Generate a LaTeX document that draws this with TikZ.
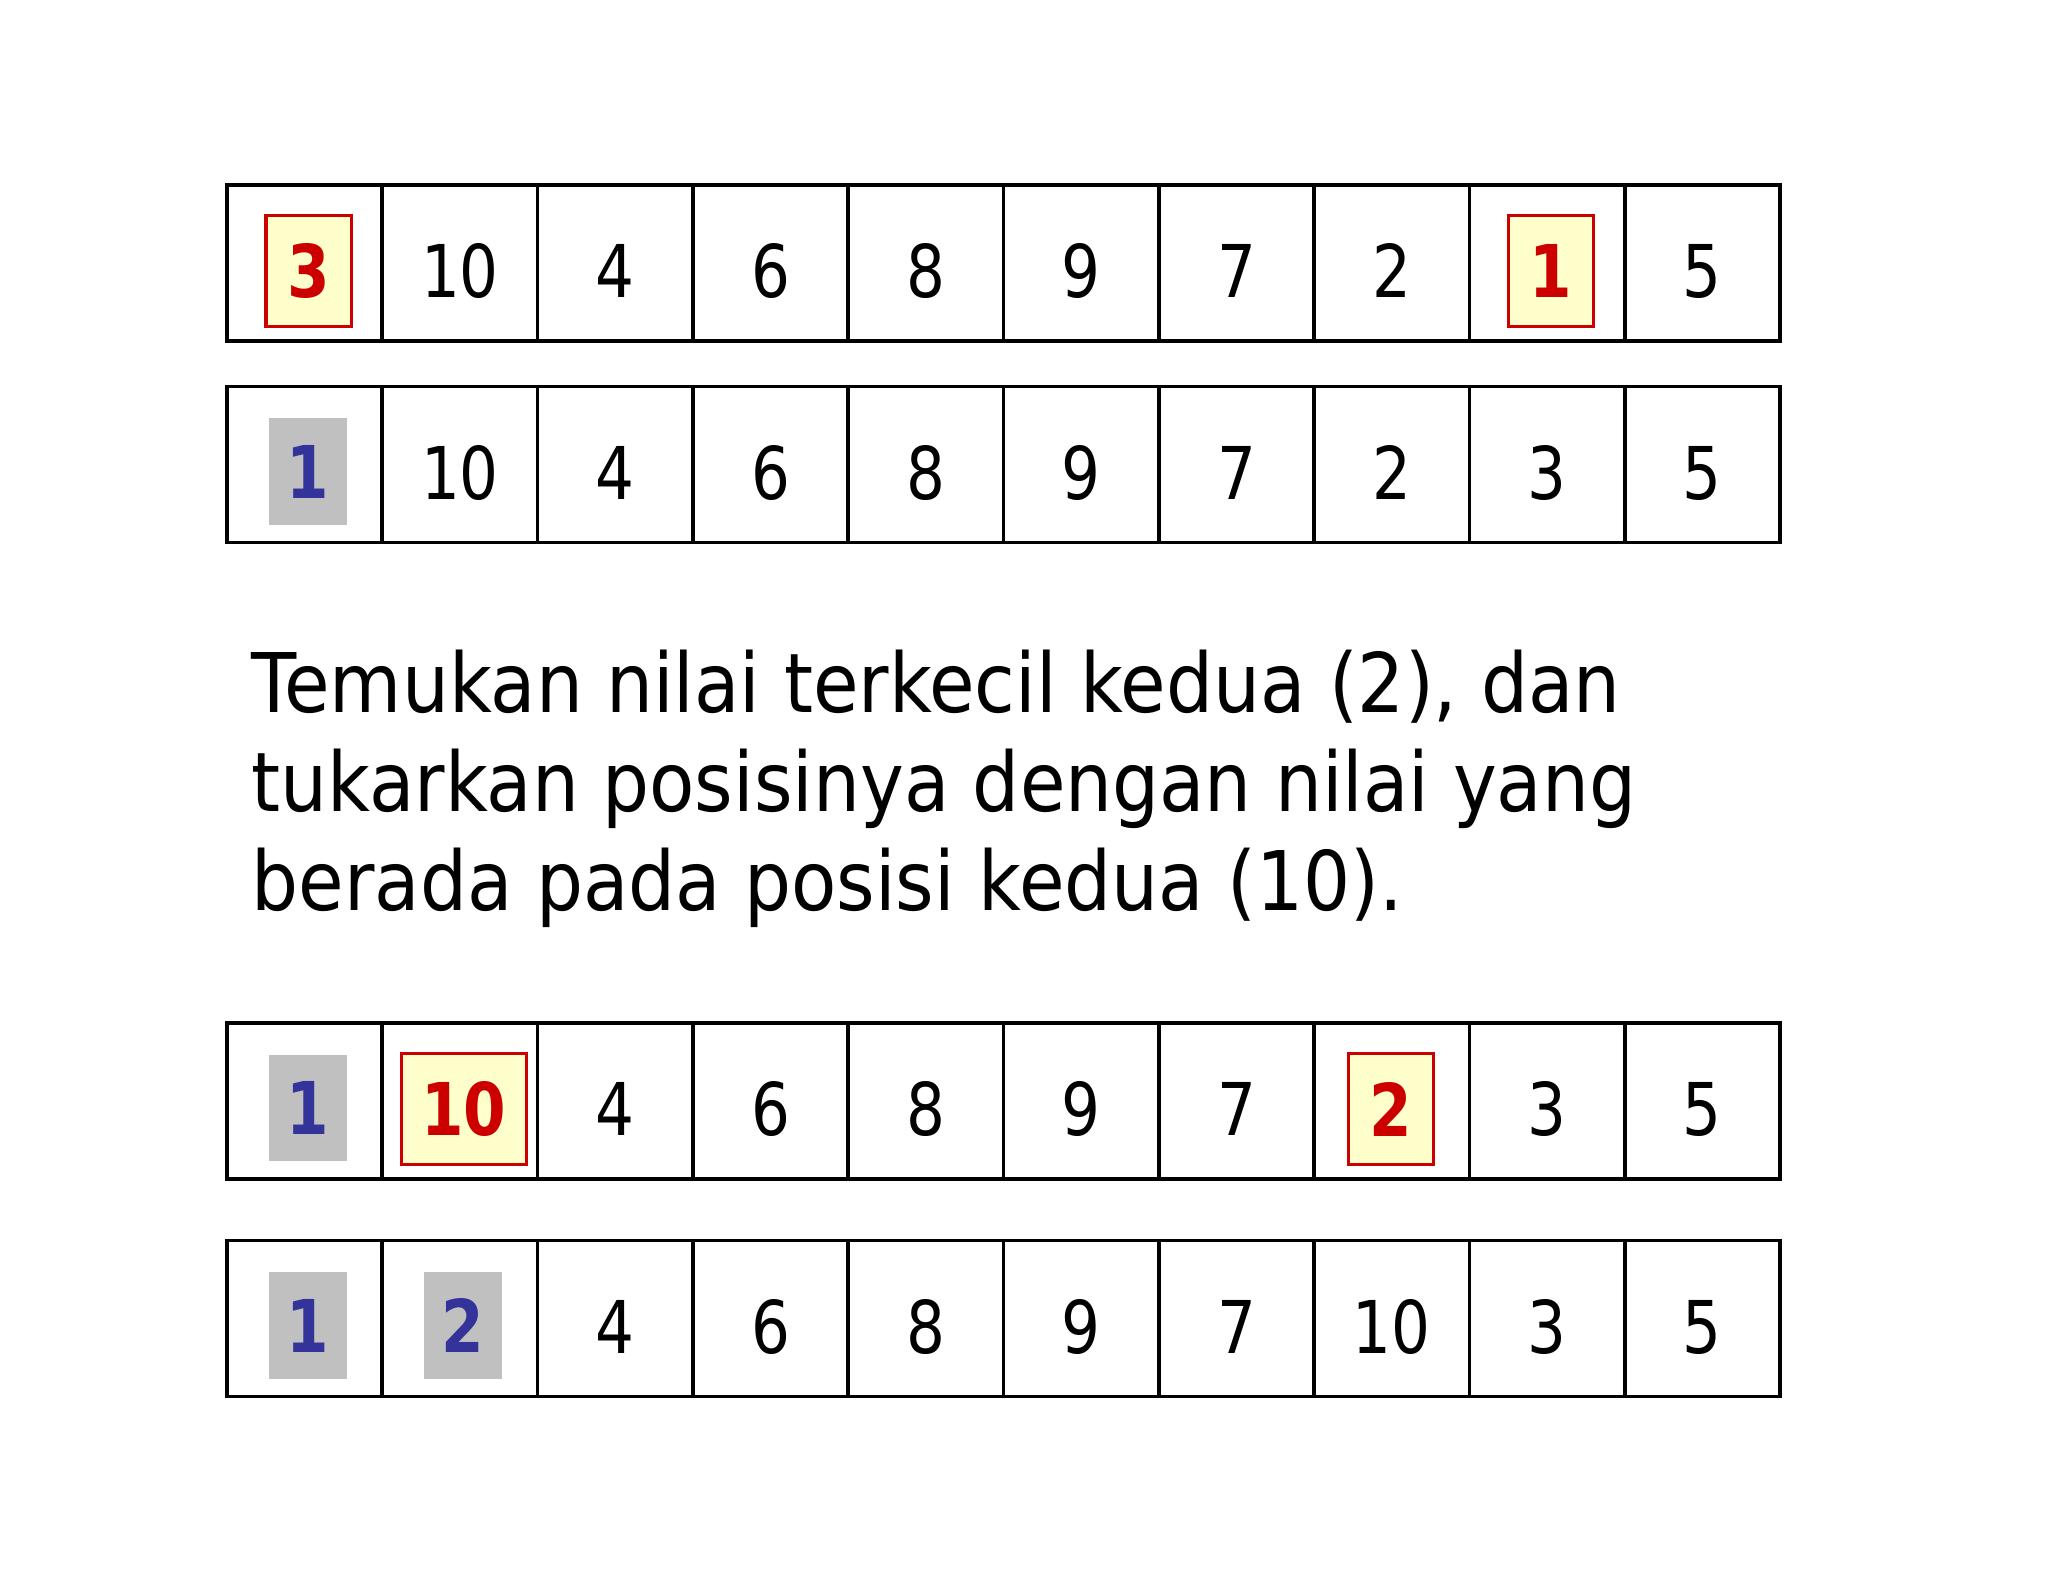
\documentclass[tikz,border=0pt]{standalone}
\usepackage{fontspec}
\usepackage{tikz}

\newfontfamily\slidefont[FakeStretch=0.84]{DejaVu Sans}
\newfontfamily\notefamily[FakeStretch=0.90]{DejaVu Sans}
\newcommand\cellfont{\slidefont\fontsize{20.7pt}{24pt}\selectfont}
\newcommand\pickfont{\slidefont\bfseries\fontsize{20.7pt}{24pt}\selectfont}
\newcommand\notefont{\notefamily\fontsize{23.4pt}{28.1pt}\selectfont}

\definecolor{pickred}{RGB}{204,0,0}
\definecolor{pickfill}{RGB}{255,255,204}
\definecolor{donegray}{RGB}{192,192,192}
\definecolor{doneblue}{RGB}{51,51,153}

\tikzset{
    cell/.style={draw, line width=1.05pt, minimum width=1.553cm, minimum height=1.56cm,
        inner sep=0pt, text height=0.69cm, text depth=0pt, font=\cellfont},
    pick/.style={draw=pickred, fill=pickfill, line width=0.95pt, minimum width=0.85cm,
        minimum height=1.11cm, inner sep=0pt, text=pickred, font=\pickfont},
    done/.style={fill=donegray, minimum width=0.78cm, minimum height=1.06cm,
        inner sep=0pt, text=doneblue, font=\pickfont}
}

\begin{document}
\begin{tikzpicture}[x=0.01cm, y=-0.01cm]
    \useasboundingbox (0,0) rectangle (2048,1582);

    % Row 1: smallest value (1) and first position (3)
    \foreach \v [count=\i] in {{},10,4,6,8,9,7,2,{},5}
        \node[cell] (r1c\i) at (149.35+155.3*\i, 263) {\v};
    \node[pick] (r1p1) at ([shift={(4,8)}]r1c1.center) {3};
    \node[pick] (r1p9) at ([shift={(4,8)}]r1c9.center) {1};

    % Row 2: after the first swap
    \foreach \v [count=\i] in {{},10,4,6,8,9,7,2,3,5}
        \node[cell] (r2c\i) at (149.35+155.3*\i, 464.5) {\v};
    \node[done] (r2d1) at ([shift={(3,7)}]r2c1.center) {1};

    % Explanation (base = last line)
    \node[font=\notefont, align=left, anchor=base west, inner sep=0pt] (ket) at (251,910)
        {Temukan nilai terkecil kedua (2), dan\\
         tukarkan posisinya dengan nilai yang\\
         berada pada posisi kedua (10).};

    % Row 3: second smallest value (2) and second position (10)
    \foreach \v [count=\i] in {{},{},4,6,8,9,7,{},3,5}
        \node[cell] (r3c\i) at (149.35+155.3*\i, 1101) {\v};
    \node[done] (r3d1) at ([shift={(3,7)}]r3c1.center) {1};
    \node[pick, minimum width=1.25cm] (r3p2) at ([shift={(4,8)}]r3c2.center) {10};
    \node[pick] (r3p8) at ([shift={(-1,8)}]r3c8.center) {2};

    % Row 4: after the second swap
    \foreach \v [count=\i] in {{},{},4,6,8,9,7,10,3,5}
        \node[cell] (r4c\i) at (149.35+155.3*\i, 1318.5) {\v};
    \node[done] (r4d1) at ([shift={(3,7)}]r4c1.center) {1};
    \node[done] (r4d2) at ([shift={(3,7)}]r4c2.center) {2};
\end{tikzpicture}
\end{document}
